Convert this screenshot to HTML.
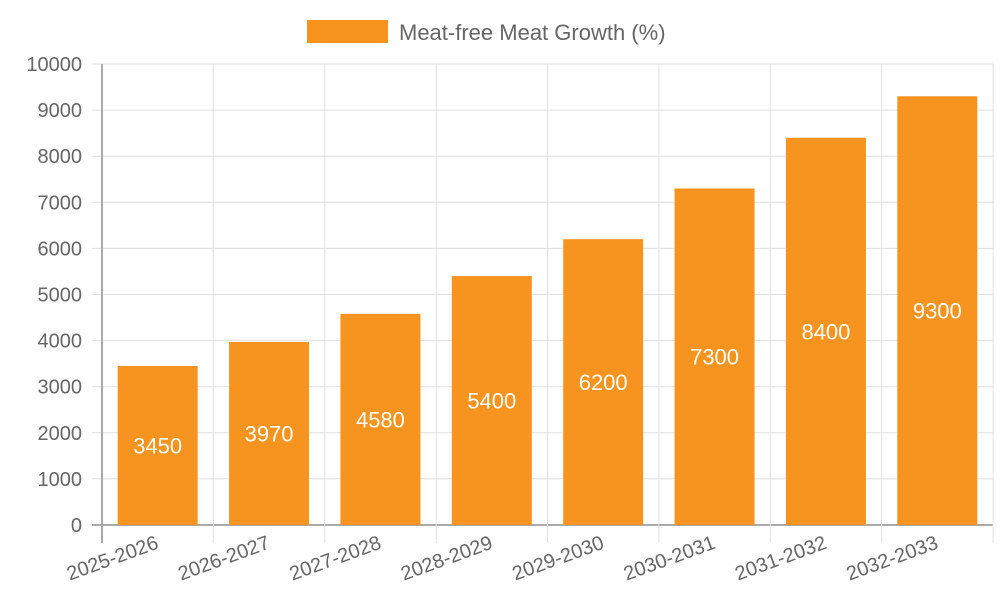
<!DOCTYPE html>
<html><head><meta charset="utf-8"><style>
body{margin:0;background:#fff;font-family:"Liberation Sans",sans-serif}
</style></head><body>
<svg id="chart" width="1000" height="600" xmlns="http://www.w3.org/2000/svg">
<rect x="307" y="20" width="81" height="23" fill="#f79420"/>
<text x="399" y="40" font-size="22" fill="#666" font-family="Liberation Sans, sans-serif">Meat-free Meat Growth (%)</text>
<g id="grid"></g><g id="bars"></g><g id="labels"></g>
</svg>
<script>
const categories=["2025-2026","2026-2027","2027-2028","2028-2029","2029-2030","2030-2031","2031-2032","2032-2033"];
const values=[3450,3970,4580,5400,6200,7300,8400,9300];
const yTicks=[0,1000,2000,3000,4000,5000,6000,7000,8000,9000,10000];
const L=102,R=993,T=64,B=525,yMax=10000;
const cw=(R-L)/categories.length;
const y=v=>B-(v/yMax)*(B-T);
const x=i=>L+i*cw;
const NS="http://www.w3.org/2000/svg";
function mk(tag,attrs,parent,text){const e=document.createElementNS(NS,tag);for(const k in attrs)e.setAttribute(k,attrs[k]);if(text!==undefined)e.textContent=text;parent.appendChild(e);return e;}
const grid=document.getElementById('grid'),bars=document.getElementById('bars'),labels=document.getElementById('labels');
yTicks.forEach(t=>{
  const l=mk('line',{x1:92,x2:R,y1:y(t),y2:y(t),stroke:t===0?'#aaa':'#e0e0e0','stroke-width':t===0?2:1},grid);
  
  
  const tx=mk('text',{x:82,y:y(t)+7,'font-size':20,fill:'#666','text-anchor':'end'},labels,String(t));
  
  
});
for(let i=0;i<=categories.length;i++){
  const l=mk('line',{x1:x(i),x2:x(i),y1:T,y2:543,stroke:i===0?'#aaa':'#e0e0e0','stroke-width':i===0?2:1},grid);
  
  
}
const bw=80;
categories.forEach((c,i)=>{
  const cx=x(i)+cw/2;
  const r=mk('rect',{x:cx-bw/2,y:y(values[i]),width:bw,height:B-y(values[i]),fill:'#f79420'},bars);
  
  
  const v=mk('text',{x:cx,y:(y(values[i])+B)/2+8,'font-size':22,fill:'#fff','text-anchor':'middle'},labels,String(values[i]));
  
  
  const t=mk('text',{x:cx+2,y:548,'font-size':20,fill:'#666','text-anchor':'end',transform:`rotate(-20 ${cx+2} 548)`},labels,c);
  
  
});
</script>
</body></html>
